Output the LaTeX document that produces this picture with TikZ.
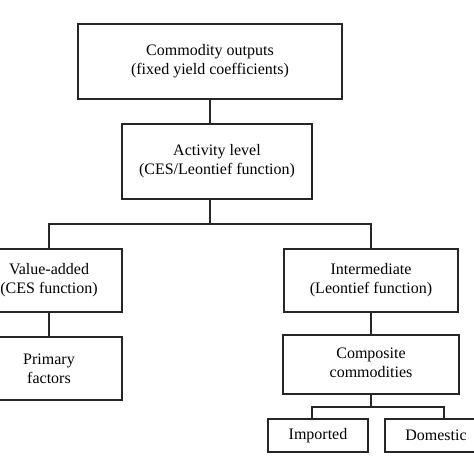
\documentclass[tikz,border=0pt]{standalone}
\usepackage{fontspec}
\setmainfont{Liberation Serif}
\newcommand\uptext[2]{\raisebox{#1}{\begin{tabular}{@{}c@{}}#2\end{tabular}}}
\begin{document}
\begin{tikzpicture}[x=1pt,y=-1pt,
  box/.style={draw=black!85, line width=1.4pt, align=center, inner sep=0pt,
    font=\fontsize{16}{19}\selectfont},
  conn/.style={draw=black!85, line width=1.4pt}]
\useasboundingbox (0,0) rectangle (474,474);
\clip (0,0) rectangle (474,474);
\node[box, minimum width=264, minimum height=75] (co) at (210,61.5) {\uptext{4pt}{Commodity outputs\\(fixed yield coefficients)}};
\node[box, minimum width=190, minimum height=75] (al) at (217,161.5) {\uptext{4pt}{Activity level\\(CES/Leontief function)}};
\node[box, minimum width=146, minimum height=63] (va) at (49,280.5) {\uptext{3pt}{Value-added\\(CES function)}};
\node[box, minimum width=146, minimum height=63] (pf) at (49,368.5) {Primary\\factors};
\node[box, minimum width=174, minimum height=63] (im) at (371,280.5) {\uptext{3pt}{Intermediate\\(Leontief function)}};
\node[box, minimum width=176, minimum height=59] (cc) at (371,364.5) {\uptext{2pt}{Composite\\commodities}};
\node[box, minimum width=100, minimum height=33] (ip) at (318,435.5) {Imported};
\node[box, minimum width=102, minimum height=33] (dm) at (436,435.5) {Domestic};
\coordinate (j1) at (210,224);
\coordinate (j2) at (371,407);
\coordinate (jl) at (312,407);
\coordinate (jr) at (444,407);
\draw[conn] (co.south -| j1) -- (al.north -| j1);
\draw[conn] (al.south -| j1) -- (j1);
\draw[conn] (va.north) |- (j1) -| (im.north);
\draw[conn] (va.south) -- (pf.north);
\draw[conn] (im.south) -- (cc.north);
\draw[conn] (cc.south) -- (j2);
\draw[conn] (ip.north -| jl) |- (jr) -- (dm.north -| jr);
\end{tikzpicture}
\end{document}
